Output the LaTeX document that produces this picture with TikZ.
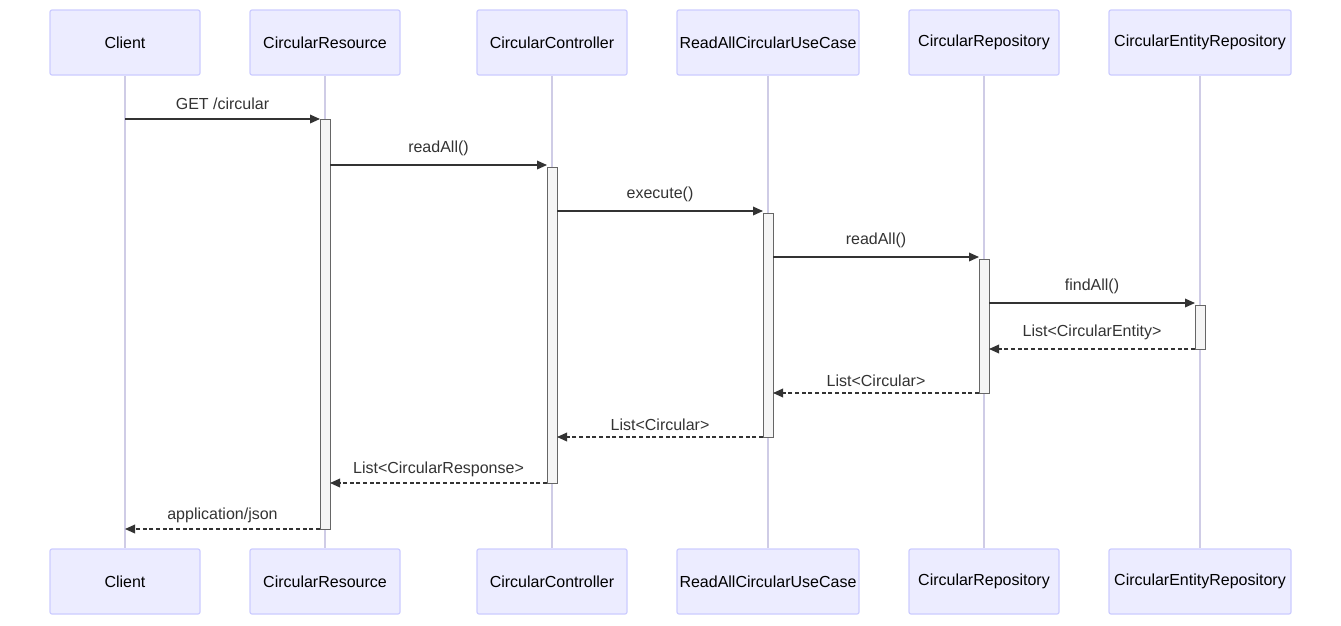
\documentclass[tikz,border=0pt]{standalone}
\usepackage{fontspec}
\setmainfont{Liberation Sans}
\usetikzlibrary{arrows.meta}
\definecolor{boxfill}{HTML}{ECECFF}
\definecolor{boxline}{HTML}{CCCCFF}
\definecolor{lifeline}{HTML}{CFCCE6}
\definecolor{msgcol}{HTML}{333333}
\tikzset{
  actor/.style={draw=boxline, fill=boxfill, line width=0.9pt, rounded corners=1.5pt,
    minimum height=65*0.75pt, inner sep=0pt, font=\fontsize{12}{14}\selectfont},
  act/.style={draw=black!60, fill=black!4, line width=0.6pt},
  msg/.style={draw=msgcol, line width=1pt, -{Triangle[length=7.5pt,width=6.5pt]}},
  ret/.style={msg, densely dashed},
  lbl/.style={font=\fontsize{12}{14}\selectfont, text=msgcol}
}
\begin{document}
\begin{tikzpicture}[x=0.75pt,y=-0.75pt]
    \useasboundingbox (0,0) rectangle (1341,625);

    % participants, top and bottom
    \node[actor, minimum width=150*0.75pt] at (125,42.5) (client) {Client};
    \node[actor, minimum width=150*0.75pt] at (325,42.5) (res) {CircularResource};
    \node[actor, minimum width=150*0.75pt] at (552,42.5) (ctrl) {CircularController};
    \node[actor, minimum width=182*0.75pt] at (768,42.5) (uc) {ReadAllCircularUseCase};
    \node[actor, minimum width=150*0.75pt] at (984,42.5) (repo) {CircularRepository};
    \node[actor, minimum width=182*0.75pt] at (1200,42.5) (erepo) {CircularEntityRepository};

    \node[actor, minimum width=150*0.75pt] at (125,581.5) (clientb) {Client};
    \node[actor, minimum width=150*0.75pt] at (325,581.5) (resb) {CircularResource};
    \node[actor, minimum width=150*0.75pt] at (552,581.5) (ctrlb) {CircularController};
    \node[actor, minimum width=182*0.75pt] at (768,581.5) (ucb) {ReadAllCircularUseCase};
    \node[actor, minimum width=150*0.75pt] at (984,581.5) (repob) {CircularRepository};
    \node[actor, minimum width=182*0.75pt] at (1200,581.5) (erepob) {CircularEntityRepository};

    % lifelines
    \foreach \p in {client,res,ctrl,uc,repo,erepo}
        \draw[lifeline, line width=1pt] (\p.south) -- (\p b.north);

    % activations
    \draw[act] (320,119) rectangle (330,529);
    \draw[act] (547,167) rectangle (557,483);
    \draw[act] (763,213) rectangle (773,437);
    \draw[act] (979,259) rectangle (989,393);
    \draw[act] (1195,305) rectangle (1205,349);

    % message end points
    \coordinate (m1s) at (125,119);  \coordinate (m1e) at (320,119);
    \coordinate (m2s) at (330,165);  \coordinate (m2e) at (547,165);
    \coordinate (m3s) at (557,211);  \coordinate (m3e) at (763,211);
    \coordinate (m4s) at (773,257);  \coordinate (m4e) at (979,257);
    \coordinate (m5s) at (989,303);  \coordinate (m5e) at (1195,303);
    \coordinate (r1s) at (1195,349); \coordinate (r1e) at (989,349);
    \coordinate (r2s) at (979,393);  \coordinate (r2e) at (773,393);
    \coordinate (r3s) at (763,437);  \coordinate (r3e) at (557,437);
    \coordinate (r4s) at (547,483);  \coordinate (r4e) at (330,483);
    \coordinate (r5s) at (320,529);  \coordinate (r5e) at (125,529);

    \draw[msg] (m1s) --node[lbl, above=3pt]{GET /circular} (m1e);
    \draw[msg] (m2s) --node[lbl, above=3pt]{readAll()} (m2e);
    \draw[msg] (m3s) --node[lbl, above=3pt]{execute()} (m3e);
    \draw[msg] (m4s) --node[lbl, above=3pt]{readAll()} (m4e);
    \draw[msg] (m5s) --node[lbl, above=3pt]{findAll()} (m5e);

    \draw[ret] (r1s) --node[lbl, above=3pt]{List<CircularEntity>} (r1e);
    \draw[ret] (r2s) --node[lbl, above=1pt]{List<Circular>} (r2e);
    \draw[ret] (r3s) --node[lbl, above=1pt]{List<Circular>} (r3e);
    \draw[ret] (r4s) --node[lbl, above=1pt]{List<CircularResponse>} (r4e);
    \draw[ret] (r5s) --node[lbl, above=1pt]{application/json} (r5e);
\end{tikzpicture}
\end{document}
